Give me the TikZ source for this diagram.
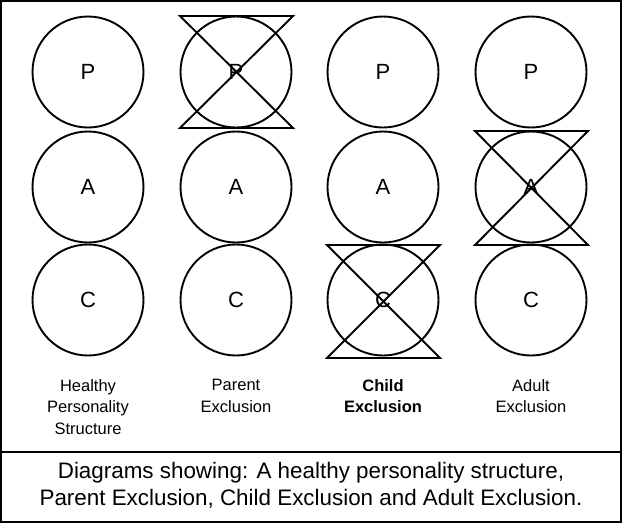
\documentclass[tikz,border=0pt]{standalone}
\usepackage{fontspec}
\setmainfont{Liberation Sans}
\begin{document}
\begin{tikzpicture}[x=1pt,y=-1pt,
  ego/.style={draw,line width=1.9pt,circle,minimum size=111pt,inner sep=0pt,font=\fontsize{22}{22}\selectfont},
  lab/.style={align=center,font=\fontsize{16.5}{21.5}\selectfont},
  xline/.style={line width=1.9pt}]
\useasboundingbox (0,0) rectangle (622,523);
\draw[line width=1.6pt] (1,1) rectangle (621,522);
\draw[line width=1.6pt] (1,452) -- (621,452);
\foreach \c/\x in {h/88,p/236,c/383,a/531}{
  \node[ego] (\c P) at (\x,72) {P};
  \node[ego] (\c A) at (\x,187) {A};
  \node[ego] (\c C) at (\x,300) {C};
}
\draw[xline] (180,16) -- (293,16) -- (180,128) -- (293,128) -- cycle;
\draw[xline] (327,245) -- (440,245) -- (327,358) -- (440,358) -- cycle;
\draw[xline] (475,131) -- (588,131) -- (475,245) -- (588,245) -- cycle;
\node[lab,anchor=north] (lh) at (88,376) {Healthy\\Personality\\Structure};
\node[lab,anchor=north] (lp) at (236,376) {Parent\\Exclusion};
\node[lab,anchor=north,font=\fontsize{16.5}{21.5}\selectfont\bfseries] (lc) at (383,376) {Child\\Exclusion};
\node[lab,anchor=north] (la) at (531,376) {Adult\\Exclusion};
\node[align=center,font=\fontsize{22.4}{27}\selectfont] (cap) at (311,485) {Diagrams showing: A healthy personality structure,\\Parent Exclusion, Child Exclusion and Adult Exclusion.};
\end{tikzpicture}
\end{document}
